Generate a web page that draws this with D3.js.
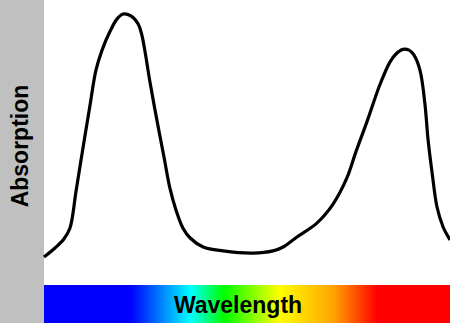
<!DOCTYPE html>
<html>
<head>
<meta charset="utf-8">
<script src="https://cdn.jsdelivr.net/npm/d3@7"></script>
<style>
  body { margin: 0; padding: 0; background: #fff; }
  svg { display: block; }
  text { font-family: "Liberation Sans", Arial, sans-serif; font-weight: bold; fill: #000; }
</style>
</head>
<body>
<svg id="drawing_region"></svg>
<script>
// wavelength position (0..100, short -> long) and absorption (0..100)
const wavelength = [0, 2.7, 4.9, 6.4, 7.9, 9.6, 11.3, 12.8, 14.3, 16.3, 18.0, 19.5, 21.4, 23.2, 24.1, 24.9, 26.1, 27.8, 29.6, 31.0, 32.5, 34.2, 36.0, 39.2, 44.1, 51.5, 56.4, 58.9, 62.3, 67.2, 71.2, 74.6, 76.8, 79.6, 82.8, 85.2, 86.7, 88.4, 89.9, 91.1, 92.6, 93.8, 94.6, 95.6, 96.8, 98.3, 100];
const absorption = [0.4, 4.1, 7.8, 12.3, 27.5, 45.1, 62.3, 77.0, 85.2, 93.0, 98.0, 100, 99.2, 95.9, 91.4, 84.4, 72.1, 56.6, 41.0, 28.7, 19.7, 12.3, 8.2, 4.5, 2.9, 2.0, 2.9, 4.5, 8.6, 14.3, 22.1, 32.8, 43.4, 56.1, 71.3, 80.3, 83.6, 85.5, 85.2, 83.2, 77.0, 63.5, 48.4, 34.8, 20.9, 12.7, 7.4];

// spectrum colours along the wavelength bar
const spectrumOffsets = [0, 0.214, 0.362, 0.443, 0.58, 0.714, 0.82, 1];
const spectrumColors = ['#0000ff', '#0000ff', '#00ffff', '#00ff00', '#ffff00', '#ffa200', '#ff0000', '#ff0000'];

const xLabel = 'Wavelength';
const yLabel = 'Absorption';

const config = {
    width: 450,
    height: 323,
    margin: { top: 14, right: 0, bottom: 65, left: 44 },
    bar: 38
};

const svg = d3.select('#drawing_region')
    .attr('width', config.width)
    .attr('height', config.height);

const xscale = d3.scaleLinear()
    .domain([0, 100])
    .range([config.margin.left, config.width - config.margin.right]);

const yscale = d3.scaleLinear()
    .domain([0, 100])
    .range([config.height - config.margin.bottom, config.margin.top]);

// gray side panel
svg.append('rect')
    .attr('x', 0).attr('y', 0)
    .attr('width', config.margin.left)
    .attr('height', config.height)
    .attr('fill', '#c0c0c0');

svg.append('text')
    .attr('transform', `translate(28, 146) rotate(-90)`)
    .attr('text-anchor', 'middle')
    .attr('font-size', 23)
    .text(yLabel);

// spectrum bar
const grad = svg.append('defs').append('linearGradient')
    .attr('id', 'spectrum')
    .attr('x1', '0%').attr('x2', '100%');
grad.selectAll('stop')
    .data(spectrumOffsets)
    .enter()
    .append('stop')
    .attr('offset', d => d)
    .attr('stop-color', (d, i) => spectrumColors[i]);

svg.append('rect')
    .attr('x', xscale(0))
    .attr('y', config.height - config.bar)
    .attr('width', xscale(100) - xscale(0))
    .attr('height', config.bar)
    .attr('fill', 'url(#spectrum)');

svg.append('text')
    .attr('x', 238)
    .attr('y', 313)
    .attr('text-anchor', 'middle')
    .attr('font-size', 23)
    .text(xLabel);

// absorption curve
const points = wavelength.map((w, i) => [w, absorption[i]]);
const line = d3.line()
    .x(d => xscale(d[0]))
    .y(d => yscale(d[1]))
    .curve(d3.curveCatmullRom.alpha(0.5));

svg.append('path')
    .datum(points)
    .attr('d', line)
    .attr('fill', 'none')
    .attr('stroke', '#000')
    .attr('stroke-width', 3.2)
    .attr('stroke-linejoin', 'round');
</script>
</body>
</html>
